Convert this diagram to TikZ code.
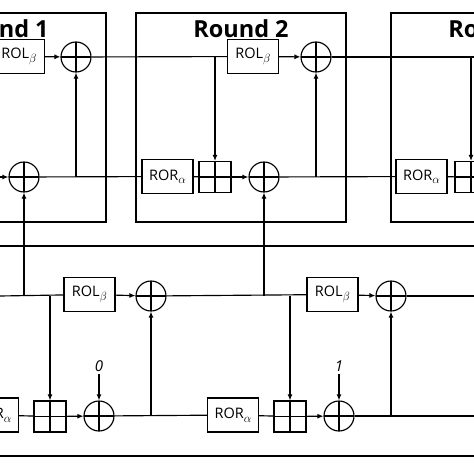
\documentclass[tikz,border=0pt]{standalone}
\usepackage{fontspec}
\setmainfont{Open Sans}
\usetikzlibrary{arrows.meta}
\newcommand\rotlabel[2]{#1\raisebox{-3.5pt}{\fontsize{13}{13}\selectfont$#2$}}

\begin{document}
\begin{tikzpicture}
  [
    x = 1pt, y = -1pt,
    line width = 1.15pt,
    >={Latex[length=6pt,width=5pt]},
    crossed/.style = {path picture = {
          \draw (path picture bounding box.north) -- (path picture bounding box.south)
          (path picture bounding box.west) -- (path picture bounding box.east);}},
    xorc/.style = {circle, draw, crossed, minimum size = 30pt, inner sep = 0pt},
    addbox/.style = {rectangle, draw, crossed, minimum width = 32pt, minimum height = 31pt, inner sep = 0pt},
    rotbox/.style = {rectangle, draw, minimum width = 51pt, minimum height = 34pt, inner sep = 0pt,
        font = \fontsize{14.5}{16}\selectfont},
    title/.style = {anchor = base, font = \fontsize{23.5}{28}\selectfont\bfseries},
    constlabel/.style = {font = \fontsize{15}{18}\selectfont\itshape, inner sep = 2pt},
  ]

  \useasboundingbox (0,0) rectangle (474,474);
  \clip (0,0) rectangle (474,474);

  \draw (-104,13) rectangle (106,222);
  \draw (136,13) rectangle (346,222);
  \draw (391,13) rectangle (601,222);
  \node [title] (titleA) at (1,37) {Round 1};
  \node [title] (titleB) at (241,37) {Round 2};
  \node [title] (titleC) at (496,37) {Round 3};

  \node [rotbox] (rolA) at (19,56.5) {\rotlabel{ROL}{\beta}};
  \node [xorc] (xorA) at (76,57) {};
  \node [xorc] (xorB) at (24,177) {};
  \coordinate (inB) at (0,177);
  \coordinate (jA) at (76,177);

  \node [rotbox] (rorC) at (167.5,176.5) {\rotlabel{ROR}{\alpha}};
  \node [addbox] (addC) at (215,177) {};
  \node [rotbox] (rolC) at (253,56.5) {\rotlabel{ROL}{\beta}};
  \node [xorc] (xorC) at (316,57) {};
  \node [xorc] (xorD) at (264,177) {};
  \coordinate (jC) at (215,57);
  \coordinate (jD) at (316,177);

  \node [rotbox] (rorE) at (421.5,176.5) {\rotlabel{ROR}{\alpha}};
  \node [addbox] (addE) at (471,177) {};
  \coordinate (jE) at (471,57);
  \coordinate (outC) at (474,57);

  \draw [->] (rolA) -- (xorA);
  \draw [->] (inB) -- (xorB);
  \draw (xorB) -- (rorC);
  \draw [->] (jA) -- (xorA);
  \draw (xorA) -- (rolC);
  \draw [->] (jC) -- (addC);
  \draw (rorC) -- (addC);
  \draw [->] (addC) -- (xorD);
  \draw [->] (rolC) -- (xorC);
  \draw [->] (jD) -- (xorC);
  \draw (xorD) -- (rorE);
  \draw (xorC) -- (outC);
  \draw [->] (jE) -- (addE);
  \draw (rorE) -- (addE);

  \node [rotbox] (rolM1) at (89.5,294.5) {\rotlabel{ROL}{\beta}};
  \node [xorc] (xorM1) at (151,296) {};
  \node [rotbox] (rolM2) at (332.5,294.5) {\rotlabel{ROL}{\beta}};
  \node [xorc] (xorM2) at (391,296) {};
  \coordinate (inM) at (0,296);
  \coordinate (outM) at (474,296);
  \coordinate (jM1) at (24,296);
  \coordinate (kM1) at (50,296);
  \coordinate (jM2) at (264,296);
  \coordinate (kM2) at (290,296);

  \node [rotbox] (rorL1) at (-7,415) {\rotlabel{ROR}{\alpha}};
  \node [addbox] (addL1) at (50,416.5) {};
  \node [xorc] (xorL1) at (99,416) {};
  \node [constlabel] (cst0) at (99,366) {0};
  \node [rotbox] (rorL2) at (233,415) {\rotlabel{ROR}{\alpha}};
  \node [addbox] (addL2) at (290,416.5) {};
  \node [xorc] (xorL2) at (339,416) {};
  \node [constlabel] (cst1) at (339,366) {1};
  \coordinate (jL1) at (151,416);
  \coordinate (jL2) at (391,416);
  \coordinate (outL) at (474,416);

  \draw (inM) -- (rolM1);
  \draw [->] (jM1) -- (xorB);
  \draw [->] (kM1) -- (addL1);
  \draw [->] (rolM1) -- (xorM1);
  \draw (xorM1) -- (rolM2);
  \draw [->] (jM2) -- (xorD);
  \draw [->] (kM2) -- (addL2);
  \draw [->] (rolM2) -- (xorM2);
  \draw (xorM2) -- (outM);

  \draw (rorL1) -- (addL1);
  \draw [->] (addL1) -- (xorL1);
  \draw [->] (cst0) -- (xorL1);
  \draw (xorL1) -- (rorL2);
  \draw [->] (jL1) -- (xorM1);
  \draw (rorL2) -- (addL2);
  \draw [->] (addL2) -- (xorL2);
  \draw [->] (cst1) -- (xorL2);
  \draw (xorL2) -- (outL);
  \draw [->] (jL2) -- (xorM2);

  \foreach \y in {246,456}{
      \draw (0,\y) coordinate (busL\y) -- (474,\y) coordinate (busR\y);
    }

\end{tikzpicture}
\end{document}
